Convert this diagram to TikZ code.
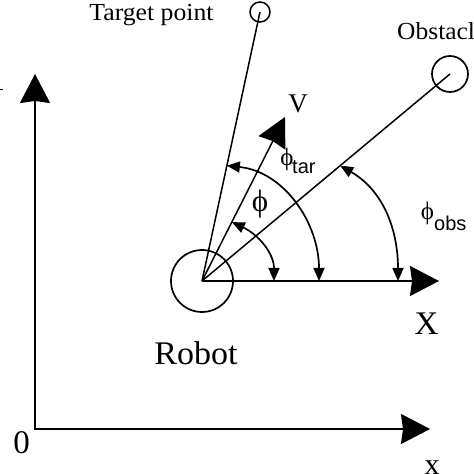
\documentclass[tikz,border=0pt]{standalone}
\usepackage{fontspec}
\setmainfont{Liberation Serif}
\setsansfont{Liberation Sans}
\usetikzlibrary{arrows.meta,calc}
\begin{document}
\begin{tikzpicture}[x=1pt,y=1pt,
  bigtip/.tip={Stealth[length=29pt,width=30pt,inset=2pt]},
  smalltip/.tip={Triangle[length=13pt,width=11pt]},
  axis/.style={line width=1.9pt},
  ray/.style={line width=1.5pt},
  angarc/.style={line width=1.7pt,{smalltip}-{smalltip}},
  lbl/.style={inner sep=0pt,font=\fontsize{24.5}{24.5}\selectfont},
  biglbl/.style={inner sep=0pt,font=\fontsize{33}{33}\selectfont},
  phisym/.style={inner sep=0pt,font=\fontsize{25}{25}\selectfont},
  sublbl/.style={inner sep=0pt,font=\sffamily\fontsize{20}{20}\selectfont}]
\clip (0,0) rectangle (474,474);
% world axes
\coordinate (O) at (35,45);
\coordinate (ytip) at (35,400);
\coordinate (xtip) at (430,45);
\draw[axis,{bigtip}-{bigtip}] (ytip) -- (O) -- (xtip);
\draw[line width=0.6pt] (0,385) -- (3,385);
% robot, target, obstacle
\node[circle,draw,line width=1.7pt,minimum size=62pt,inner sep=0pt] (robot) at (202,193) {};
\node[circle,draw,line width=1.5pt,minimum size=20pt,inner sep=0pt] (tgt) at (260,462) {};
\node[circle,draw,line width=1.7pt,minimum size=36pt,inner sep=0pt] (obs) at (450,400) {};
\coordinate (Xtip) at (439,193);
\coordinate (Vtip) at (285,357);
\draw[ray] (robot.center) -- (tgt.center);
\draw[ray] (robot.center) -- (obs.center);
\draw[ray,-{bigtip}] (robot.center) -- (Xtip);
\draw[ray,-{bigtip}] (robot.center) -- (Vtip);
% angle arcs
\coordinate (a1) at ($(robot.center)!72pt!(Xtip)$);
\coordinate (b1) at ($(robot.center)!66pt!(Vtip)$);
\draw[angarc] (a1) to[out=90,in=-25] (b1);
\coordinate (a2) at ($(robot.center)!117pt!(Xtip)$);
\coordinate (b2) at ($(robot.center)!118pt!(tgt.center)$);
\draw[angarc] (a2) to[out=90,in=-6] (b2);
\coordinate (a3) at ($(robot.center)!196pt!(Xtip)$);
\coordinate (b3) at ($(robot.center)!180pt!(obs.center)$);
\draw[angarc] (a3) to[out=90,in=-30] (b3);
% labels
\node[lbl,xscale=1.05,anchor=base] (tp) at (151.5,453.5) {Target point};
\node[lbl,xscale=1.04,anchor=base west] (ob) at (397,434) {Obstacle};
\node[lbl,font=\fontsize{27}{27}\selectfont,anchor=base] (vl) at (298,361) {V};
\node[biglbl,anchor=base] (Xl) at (426.5,139) {X};
\node[biglbl,xscale=1.03,anchor=base] (rl) at (196,109) {Robot};
\node[biglbl,anchor=base] (zero) at (21.5,20) {0};
\node[biglbl,font=\fontsize{30}{30}\selectfont,anchor=base] (xl) at (432,-1) {x};
\node[phisym,font=\fontsize{31}{31}\selectfont] (ph) at (260,270) {ϕ};
\node[phisym] (phtar) at (287,315) {ϕ};
\node[sublbl,anchor=base west] (tar) at (292,300) {tar};
\node[phisym] (phobs) at (427.5,260.5) {ϕ};
\node[sublbl,anchor=base west] (obsl) at (434,243) {obs};
\end{tikzpicture}
\end{document}
